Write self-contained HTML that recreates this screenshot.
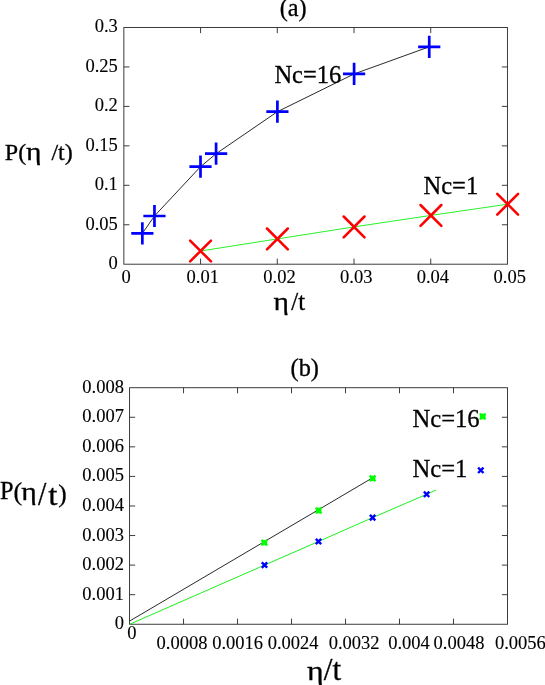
<!DOCTYPE html>
<html><head><meta charset="utf-8"><title>P(eta/t)</title>
<style>html,body{margin:0;padding:0;background:#fff;}svg{display:block;}text{font-family:"Liberation Serif",serif;fill:#000;stroke:#000;stroke-width:0.3px;}.tk text{stroke-width:0.12px;}</style>
</head><body>
<svg width="545" height="685" viewBox="0 0 545 685">
<rect x="0" y="0" width="545" height="685" fill="#fff"/>
<g fill="none" stroke="#333" stroke-width="0.95">
<rect x="123.85" y="27.5" width="383.60" height="236.70"/>
<path d="M200.57 27.5v5.6M200.57 264.2v-5.6M277.29 27.5v5.6M277.29 264.2v-5.6M354.01 27.5v5.6M354.01 264.2v-5.6M430.73 27.5v5.6M430.73 264.2v-5.6M123.85 224.75h5.6M507.45 224.75h-5.6M123.85 185.30h5.6M507.45 185.30h-5.6M123.85 145.85h5.6M507.45 145.85h-5.6M123.85 106.40h5.6M507.45 106.40h-5.6M123.85 66.95h5.6M507.45 66.95h-5.6"/>
</g>
<g class="tk" font-size="18.5" text-anchor="end">
<text x="117.8" y="269.3">0</text>
<text x="117.8" y="229.8">0.05</text>
<text x="117.8" y="190.3">0.1</text>
<text x="117.8" y="150.8">0.15</text>
<text x="117.8" y="111.3">0.2</text>
<text x="117.8" y="71.8">0.25</text>
<text x="117.8" y="32.3">0.3</text>
</g>
<g class="tk" font-size="18.5" text-anchor="middle">
<text x="126.0" y="282.6">0</text>
<text x="202.8" y="282.6">0.01</text>
<text x="279.5" y="282.6">0.02</text>
<text x="356.2" y="282.6">0.03</text>
<text x="432.9" y="282.6">0.04</text>
<text x="509.7" y="282.6">0.05</text>
</g>
<path d="M142.35 233.45L154.46 216.0L200.5 166.7L216.1 153.7L277.4 111.7L354.1 73.95L429.25 46.8" fill="none" stroke="#111" stroke-width="0.9" stroke-linejoin="round"/>
<path d="M200.55 251.0L277.4 238.9L354.1 226.9L430.95 215.4L507.65 204.2" fill="none" stroke="#10f010" stroke-width="0.9"/>
<path d="M131.25 233.45h22.2M142.35 222.35v22.2M143.36 216.0h22.2M154.46 204.90v22.2M189.40 166.7h22.2M200.5 155.60v22.2M205.00 153.7h22.2M216.1 142.60v22.2M266.30 111.7h22.2M277.4 100.60v22.2M343.00 73.95h22.2M354.1 62.85v22.2M418.15 46.8h22.2M429.25 35.70v22.2" fill="none" stroke="#0000ff" stroke-width="2.7"/>
<path d="M190.15 240.60l20.8 20.8M190.15 261.40l20.8 -20.8M267.00 228.50l20.8 20.8M267.00 249.30l20.8 -20.8M343.70 216.50l20.8 20.8M343.70 237.30l20.8 -20.8M420.55 205.00l20.8 20.8M420.55 225.80l20.8 -20.8M497.25 193.80l20.8 20.8M497.25 214.60l20.8 -20.8" fill="none" stroke="#ff0000" stroke-width="2.55" stroke-linecap="round"/>
<text x="279.7" y="15.8" font-size="24.3">(a)</text>
<text x="274.4" y="83.3" font-size="24.5">Nc=16</text>
<text x="423.5" y="194.1" font-size="24.5">Nc=1</text>
<text x="4.8" y="160.3" font-size="24">P(</text>
<text transform="translate(25.9 160.4) scale(1.2 1.04)" font-size="24.6" stroke="#000" stroke-width="0.2">η</text>
<text x="51.4" y="160.3" font-size="24">/t)</text>
<text transform="translate(273.6 310.1) scale(1.18 1)" font-size="25" stroke="#000" stroke-width="0.25">η</text>
<text x="291.3" y="310.2" font-size="24.8" stroke="#000" stroke-width="0.3">/t</text>
<g fill="none" stroke="#333" stroke-width="0.95">
<rect x="129.55" y="387.7" width="377.95" height="236.55"/>
<path d="M183.54 387.7v5.6M183.54 624.25v-5.6M237.54 387.7v5.6M237.54 624.25v-5.6M291.53 387.7v5.6M291.53 624.25v-5.6M345.52 387.7v5.6M345.52 624.25v-5.6M399.51 387.7v5.6M399.51 624.25v-5.6M453.51 387.7v5.6M453.51 624.25v-5.6M129.55 594.68h5.6M507.5 594.68h-5.6M129.55 565.11h5.6M507.5 565.11h-5.6M129.55 535.54h5.6M507.5 535.54h-5.6M129.55 505.98h5.6M507.5 505.98h-5.6M129.55 476.41h5.6M507.5 476.41h-5.6M129.55 446.84h5.6M507.5 446.84h-5.6M129.55 417.27h5.6M507.5 417.27h-5.6"/>
</g>
<g class="tk" font-size="18.5" text-anchor="end">
<text x="123.9" y="629.2">0</text>
<text x="123.9" y="599.7">0.001</text>
<text x="123.9" y="570.1">0.002</text>
<text x="123.9" y="540.5">0.003</text>
<text x="123.9" y="511.0">0.004</text>
<text x="123.9" y="481.4">0.005</text>
<text x="123.9" y="451.8">0.006</text>
<text x="123.9" y="422.3">0.007</text>
<text x="123.9" y="392.7">0.008</text>
</g>
<g class="tk" font-size="18.5" text-anchor="middle">
<text x="131.9" y="638.6">0</text>
<text x="182.0" y="649.2">0.0008</text>
<text x="237.6" y="649.2">0.0016</text>
<text x="293.1" y="649.2">0.0024</text>
<text x="354.1" y="649.2">0.0032</text>
<text x="409.0" y="649.2">0.004</text>
<text x="459.0" y="649.2">0.0048</text>
<text x="520.4" y="649.2">0.0056</text>
</g>
<path d="M129.55 621.1L372.6 477.8" fill="none" stroke="#111" stroke-width="0.9"/>
<path d="M129.55 624.3L264.5 565.1L318.5 541.5L372.6 517.6L426.6 494.35L435.95 490.0" fill="none" stroke="#10f010" stroke-width="0.95" stroke-linejoin="round"/>
<path d="M262.3 540.5l4.2 4.2M262.3 544.7l4.2 -4.2M316.5 508.4l4.2 4.2M316.5 512.6l4.2 -4.2M370.5 476.3l4.2 4.2M370.5 480.5l4.2 -4.2M480.6 414.3l4.2 4.2M480.6 418.6l4.2 -4.2" fill="none" stroke="#00ff00" stroke-width="2.4" stroke-linecap="round"/>
<path d="M261.70 539.90h5.4v5.4h-5.4zM315.90 507.85h5.4v5.4h-5.4zM369.90 475.70h5.4v5.4h-5.4zM480.00 413.75h5.4v5.4h-5.4z" fill="#00ff00"/>
<path d="M261.8 562.3l5.4 5.4M261.8 567.8l5.4 -5.4M315.8 538.8l5.4 5.4M315.8 544.2l5.4 -5.4M369.9 514.9l5.4 5.4M369.9 520.3l5.4 -5.4M423.9 491.6l5.4 5.4M423.9 497.0l5.4 -5.4M478.1 467.6l5.4 5.4M478.1 473.0l5.4 -5.4" fill="none" stroke="#0000ff" stroke-width="2.4"/>
<text x="290.6" y="376.3" font-size="24.3">(b)</text>
<text x="412.5" y="426.9" font-size="24.6">Nc=16</text>
<text x="412.5" y="476.9" font-size="24.6">Nc=1</text>
<text x="0.0" y="498.8" font-size="24.3">P</text>
<text x="13.6" y="500.2" font-size="26">(</text>
<text transform="translate(21.3 500.0) scale(1.2 1)" font-size="24.6" stroke="#000" stroke-width="0.2">η</text>
<text transform="translate(37.9 504.7) scale(1.0 1.12)" font-size="30" stroke="#000" stroke-width="0.4">/</text>
<text transform="translate(48.3 504.6) scale(1.12 1)" font-size="29.5" stroke="#000" stroke-width="0.35">t</text>
<text x="58.3" y="501.5" font-size="25.2">)</text>
<text transform="translate(307.0 679.7) scale(1.2 1)" font-size="26.5" stroke="#000" stroke-width="0.3">η</text>
<text x="323.8" y="679.7" font-size="31.3" stroke="#000" stroke-width="0.4">/t</text>
</svg>
</body></html>
